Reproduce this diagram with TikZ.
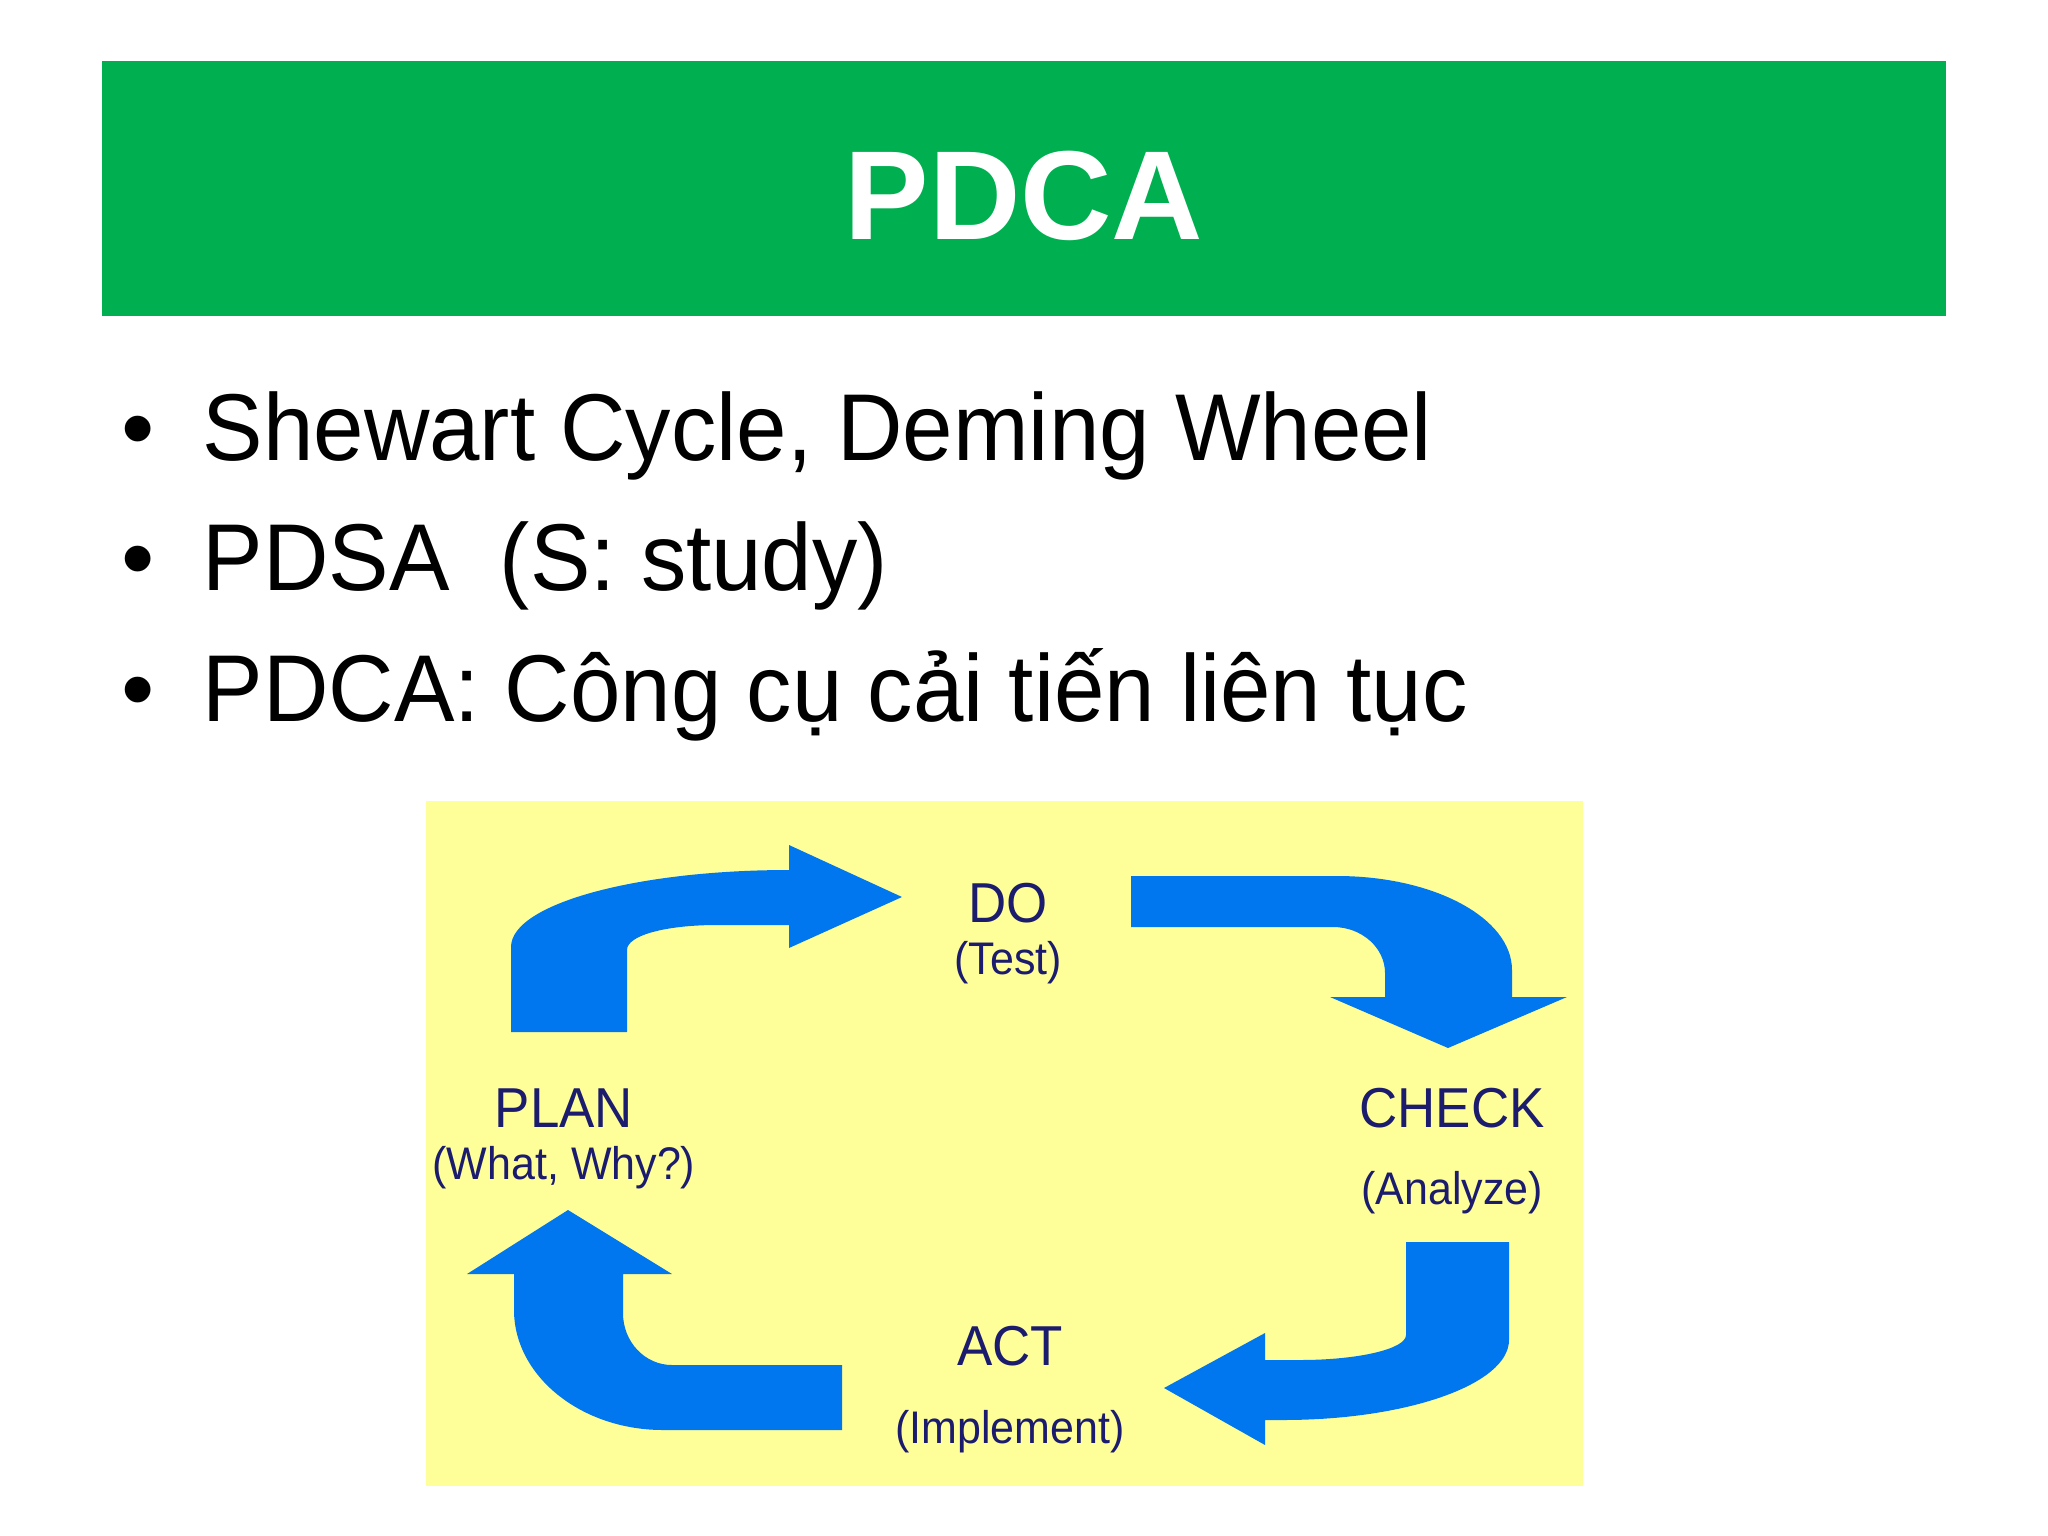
\documentclass[tikz,border=0pt]{standalone}
\usepackage{fontspec}
\setmainfont{Liberation Sans}
\newfontfamily\slidenarrow[FakeStretch=0.955]{Liberation Sans}
\newfontfamily\labelnarrow[FakeStretch=0.94]{Liberation Sans}
\usetikzlibrary{positioning}
\usepackage{xcolor}
\definecolor{titlegreen}{RGB}{0,176,80}
\definecolor{cycleyellow}{RGB}{255,255,153}
\definecolor{cycleblue}{RGB}{0,119,238}
\definecolor{labelnavy}{RGB}{28,28,110}

\begin{document}
\begin{tikzpicture}[
  x = 0.01cm, y = -0.01cm,
  %
  % ── Node styles ─────────────────────────────────────────────────
  title/.style    = {font=\fontsize{36}{43}\selectfont\bfseries,
                     text=white, inner sep=0pt, anchor=base},
  point/.style    = {font=\slidenarrow\fontsize{27}{32}\selectfont,
                     inner sep=0pt, anchor=base west},
  dot/.style      = {font=\fontsize{27}{32}\selectfont,
                     inner sep=0pt, anchor=base},
  stage/.style    = {font=\labelnarrow\fontsize{16}{19}\selectfont,
                     text=labelnavy, inner sep=0pt, anchor=base},
  stagesub/.style = {font=\labelnarrow\fontsize{13}{16}\selectfont,
                     text=labelnavy, inner sep=0pt, anchor=base},
  bigarrow/.style = {fill=cycleblue},
]

\useasboundingbox[fill=white] (0,0) rectangle (2048,1536);

%% ═══════════════════════════════════════════════════════════════════
%% TITLE BAR
%% ═══════════════════════════════════════════════════════════════════

\fill[titlegreen] (102,61) rectangle (1946,316);
\node[title] (pdca-title) at (1024,239) {PDCA};

%% ═══════════════════════════════════════════════════════════════════
%% BULLET POINTS
%% ═══════════════════════════════════════════════════════════════════

\node[dot]   (dot-1)       at (138,460) {•};
\node[point] (pt-shewart)  at (202,460) {Shewart Cycle, Deming Wheel};

\node[dot]   (dot-2)       at (138,590) {•};
\node[point] (pt-pdsa)     at (202,590) {PDSA\ \ (S: study)};

\node[dot]   (dot-3)       at (138,721) {•};
\node[point] (pt-tool)     at (202,721) {PDCA: Công cụ cải tiến liên tục};

%% ═══════════════════════════════════════════════════════════════════
%% CYCLE PANEL
%% ═══════════════════════════════════════════════════════════════════

\fill[cycleyellow] (426,801) rectangle (1583,1486);

%% ── Stage labels ─────────────────────────────────────────────────
\node[stage]    (do)        at (1008,922)  {DO};
\node[stagesub] (do-sub)    at (1008,974)  {(Test)};

\node[stage]    (plan)      at (564,1127)  {PLAN};
\node[stagesub] (plan-sub)  at (564,1179)  {(What, Why?)};

\node[stage]    (check)     at (1452,1127) {CHECK};
\node[stagesub] (check-sub) at (1452,1204) {(Analyze)};

\node[stage]    (act)       at (1010,1365) {ACT};
\node[stagesub] (act-sub)   at (1010,1443) {(Implement)};

%% ── Curved block arrows ──────────────────────────────────────────
% Plan -> Do (top left)
\fill[bigarrow] (511,1032) -- (511,947)
  .. controls (511,904) and (636,870) .. (789,870)
  -- (789,845) -- (902,897) -- (789,948) -- (789,925) -- (717,925)
  .. controls (667,925) and (627,935) .. (627,950)
  -- (627,1032) -- cycle;

% Do -> Check (top right)
\fill[bigarrow] (1131,876) -- (1337,876)
  .. controls (1434,876) and (1512,918) .. (1512,970)
  -- (1512,997) -- (1567,997) -- (1448,1048) -- (1330,997) -- (1385,997)
  -- (1385,973) .. controls (1385,948) and (1362,927) .. (1333,927)
  -- (1131,927) -- cycle;

% Check -> Act (bottom right)
\fill[bigarrow] (1406,1242) -- (1509,1242) -- (1509,1340)
  .. controls (1509,1384) and (1408,1420) .. (1283,1420)
  -- (1265,1420) -- (1265,1445) -- (1164,1388) -- (1265,1333)
  -- (1265,1360) -- (1300,1360)
  .. controls (1358,1360) and (1406,1349) .. (1406,1335) -- cycle;

% Act -> Plan (bottom left)
\fill[bigarrow] (842,1365) -- (672,1365)
  .. controls (645,1365) and (623,1342) .. (623,1313)
  -- (623,1274) -- (672,1274) -- (568,1210) -- (467,1274) -- (514,1274)
  -- (514,1310) .. controls (514,1376) and (581,1430) .. (663,1430)
  -- (842,1430) -- cycle;

\end{tikzpicture}
\end{document}
